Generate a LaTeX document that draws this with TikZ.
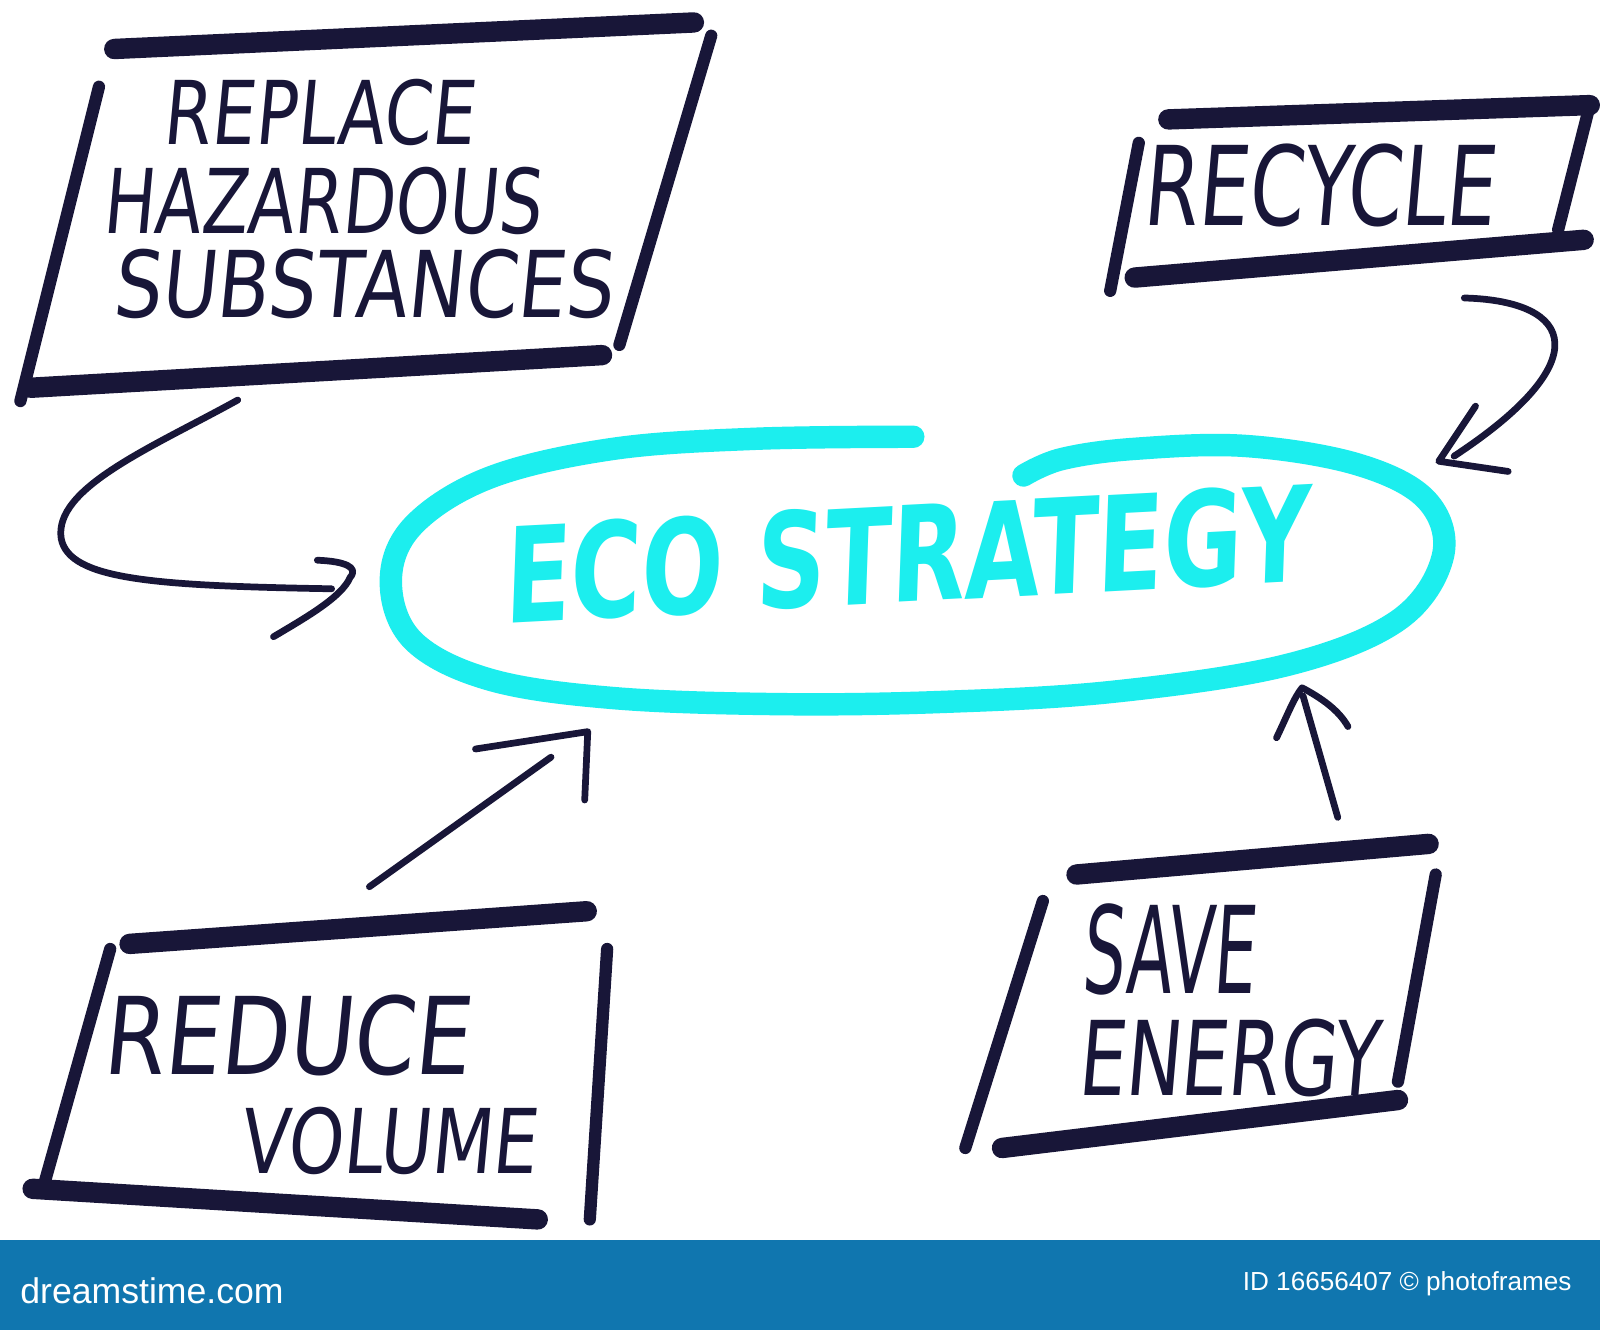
\documentclass[tikz,border=0pt]{standalone}
\usepackage{fontspec}
\setmainfont{DejaVu Sans}
\newfontfamily\hand[FakeSlant=0.12]{DejaVu Sans}
\newfontfamily\banfont{Liberation Sans}
\definecolor{ink}{RGB}{24,22,56}
\definecolor{eco}{RGB}{28,238,238}
\definecolor{banner}{RGB}{16,118,175}
\tikzset{
  bar/.style={draw=ink, line width=10pt, line cap=round},
  side/.style={draw=ink, line width=6pt, line cap=round},
  pen/.style={draw=ink, line width=3.3pt, line cap=round, line join=round},
  lbl/.style={inner sep=0pt, text=ink},
  ecoline/.style={draw=eco, line width=11pt, line cap=round, line join=round},
}
\newcommand{\hw}[3]{\resizebox{#1pt}{#2pt}{\hand #3}}
\begin{document}
\begin{tikzpicture}[x=0.5pt, y=-0.5pt]
\useasboundingbox (0,0) rectangle (1568,1303);
\fill[white] (0,0) rectangle (1568,1303);

% ---------- Box 1: replace hazardous substances
\draw[bar]  (112,48) -- (680,22);
\draw[side] (697,35) -- (607,338);
\draw[bar]  (30,380) -- (590,348);
\draw[side] (97,85) -- (20,393);
\node[lbl] (b1a) at (312,110) {\hw{152.5}{32}{REPLACE}};
\node[lbl] (b1b) at (315,197) {\hw{215}{32.5}{HAZARDOUS}};
\node[lbl] (b1c) at (355,278) {\hw{245}{33.5}{SUBSTANCES}};

% ---------- Box 2: recycle
\draw[bar]  (1145,117) -- (1558,103);
\draw[side] (1558,103) -- (1527,225);
\draw[bar]  (1112,272) -- (1552,235);
\draw[side] (1116,140) -- (1088,285);
\node[lbl] (b2) at (1292,182) {\hw{172.5}{40}{RECYCLE}};

% ---------- Box 3: reduce volume
\draw[bar]  (127,925) -- (575,893);
\draw[side] (595,930) -- (578,1195);
\draw[bar]  (32,1165) -- (527,1195);
\draw[side] (108,930) -- (42,1165);
\node[lbl] (b3a) at (280,1015) {\hw{180}{39}{REDUCE}};
\node[lbl] (b3b) at (380,1118) {\hw{145}{32.5}{VOLUME}};

% ---------- Box 4: save energy
\draw[bar]  (1055,857) -- (1400,827);
\draw[side] (1407,857) -- (1370,1060);
\draw[bar]  (982,1125) -- (1370,1078);
\draw[side] (1022,883) -- (946,1125);
\node[lbl] (b4a) at (1145,930) {\hw{85}{44}{SAVE}};
\node[lbl] (b4b) at (1203,1037) {\hw{147.5}{37.5}{ENERGY}};

% ---------- central eco strategy
\draw[ecoline] plot[smooth, tension=0.6] coordinates {
  (895,428) (740,430) (600,440) (480,468) (405,515) (383,570) (405,628)
  (480,666) (600,684) (760,690) (920,688) (1090,678) (1260,652) (1370,608)
  (1414,545) (1398,490) (1330,455) (1220,437) (1110,440) (1040,450) (1003,466)};
\node[text=eco, inner sep=0pt, rotate=3] (eco) at (886,543)
  {\resizebox{395pt}{48pt}{\hand\bfseries ECO STRATEGY}};

% ---------- connectors
\coordinate (a1s) at (233,392);
\coordinate (a1e) at (325,577);
\coordinate (a1t) at (343,566);
\draw[pen] (a1s) .. controls (150,438) and (52,478) .. (60,528)
  .. controls (68,568) and (150,574) .. (a1e);
\draw[pen] (311,549) .. controls (338,550) and (352,556) .. (a1t)
  .. controls (335,585) and (300,605) .. (268,624);

\coordinate (a2s) at (1435,292);
\coordinate (a2e) at (1425,447);
\coordinate (a2t) at (1410,452);
\draw[pen] (a2s) .. controls (1545,295) and (1565,355) .. (a2e);
\draw[pen] (1446,398) -- (a2t) -- (1478,462);

\coordinate (a3s) at (362,869);
\coordinate (a3e) at (540,742);
\coordinate (a3t) at (576,717);
\draw[pen] (a3s) -- (a3e);
\draw[pen] (466,734) -- (a3t) -- (573,784);

\coordinate (a4s) at (1311,801);
\coordinate (a4e) at (1277,682);
\coordinate (a4t) at (1276,674);
\draw[pen] (a4s) -- (a4e);
\draw[pen] (1251,723) .. controls (1262,700) and (1268,684) .. (a4t)
  .. controls (1295,684) and (1312,696) .. (1321,712);

% ---------- banner
\fill[banner] (0,1215) rectangle (1568,1303);
\node[text=white, inner sep=0pt] (dt) at (149,1265)
  {\resizebox{129pt}{!}{\banfont dreamstime.com}};
\node[text=white, inner sep=0pt] (id) at (1379,1258)
  {\resizebox{161pt}{!}{\banfont ID 16656407 © photoframes}};
\end{tikzpicture}
\end{document}
